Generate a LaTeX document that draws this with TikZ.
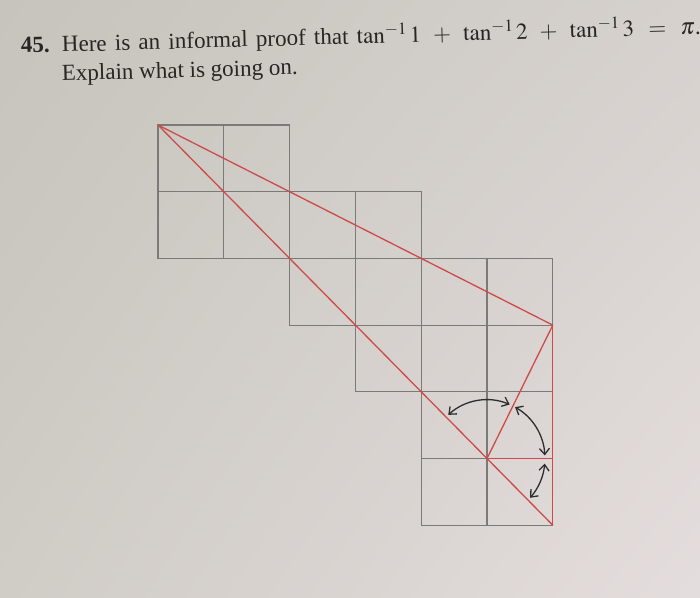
\documentclass[tikz,border=0pt]{standalone}
\usepackage{mathptmx}
\usepackage[no-math]{fontspec}
\setmainfont{Liberation Serif}
\usetikzlibrary{arrows.meta,shadings}
\definecolor{paperUL}{RGB}{198,196,189}
\definecolor{paperUR}{RGB}{214,209,205}
\definecolor{paperLL}{RGB}{208,204,198}
\definecolor{paperLR}{RGB}{228,221,221}
\definecolor{gridgray}{RGB}{122,122,120}
\definecolor{proofred}{RGB}{206,74,72}
\definecolor{arcdark}{RGB}{45,45,45}
\definecolor{inkdark}{RGB}{40,38,36}
\tikzset{
  txt/.style={inner sep=0pt, text=inkdark, font=\fontsize{23}{29}\selectfont, anchor=base west, rotate=1.6},
  gridline/.style={draw=gridgray, line width=1.2pt, line cap=rect},
  redline/.style={draw=proofred, line width=1.3pt},
  anglearc/.style={draw=arcdark, line width=1.3pt,
    {Straight Barb[length=6pt,width=10pt]}-{Straight Barb[length=6pt,width=10pt]}}
}
\begin{document}
\begin{tikzpicture}[x=1pt,y=-1pt]
\useasboundingbox (0,0) rectangle (700,597);
\shade[upper left=paperUL, upper right=paperUR, lower left=paperLL, lower right=paperLR]
  (0,0) rectangle (700,597);
% text
\node[txt] (num) at (21,53) {\bfseries 45.};
\node[txt] (line1) at (62,52) {\spaceskip=0.25em plus 0.08em minus 0.05em
  \medmuskip=4mu plus 4mu\thickmuskip=5mu plus 4.5mu
  \hbox to 639pt{Here is an informal proof that $\tan^{-1}1+\tan^{-1}2+\tan^{-1}3=\pi$.}};
\node[txt] (line2) at (62,81) {Explain what is going on.};
% grid figure
\begin{scope}[shift={(158,125)}, x=65.8pt, y=-66.7pt]
  % horizontal grid lines
  \foreach \r/\a/\b in {0/0/2,1/0/4,2/0/6,3/2/6,4/3/6,5/4/6,6/4/6}
    \draw[gridline] (\a,\r) -- (\b,\r);
  % vertical grid lines
  \foreach \c/\a/\b in {0/0/2,1/0/2,2/0/3,3/1/4,4/1/6,5/2/6,6/2/3}
    \draw[gridline] (\c,\a) -- (\c,\b);
  \coordinate (A) at (0,0);
  \coordinate (B) at (6,3);
  \coordinate (C) at (5,5);
  \coordinate (D) at (6,6);
  \coordinate (E) at (6,5);
  \draw[redline] (A) -- (D);
  \draw[redline] (A) -- (B);
  \draw[redline] (B) -- (C);
  \draw[redline] (B) -- (D);
  \draw[redline] (C) -- (E);
  \draw[anglearc] (C) ++(228:0.88) arc[start angle=228, end angle=293, radius=0.88];
  \draw[anglearc] (C) ++(299:0.88) arc[start angle=299, end angle=357, radius=0.88];
  \draw[anglearc] (C) ++(5:0.88) arc[start angle=5, end angle=42, radius=0.88];
\end{scope}
\end{tikzpicture}
\end{document}
